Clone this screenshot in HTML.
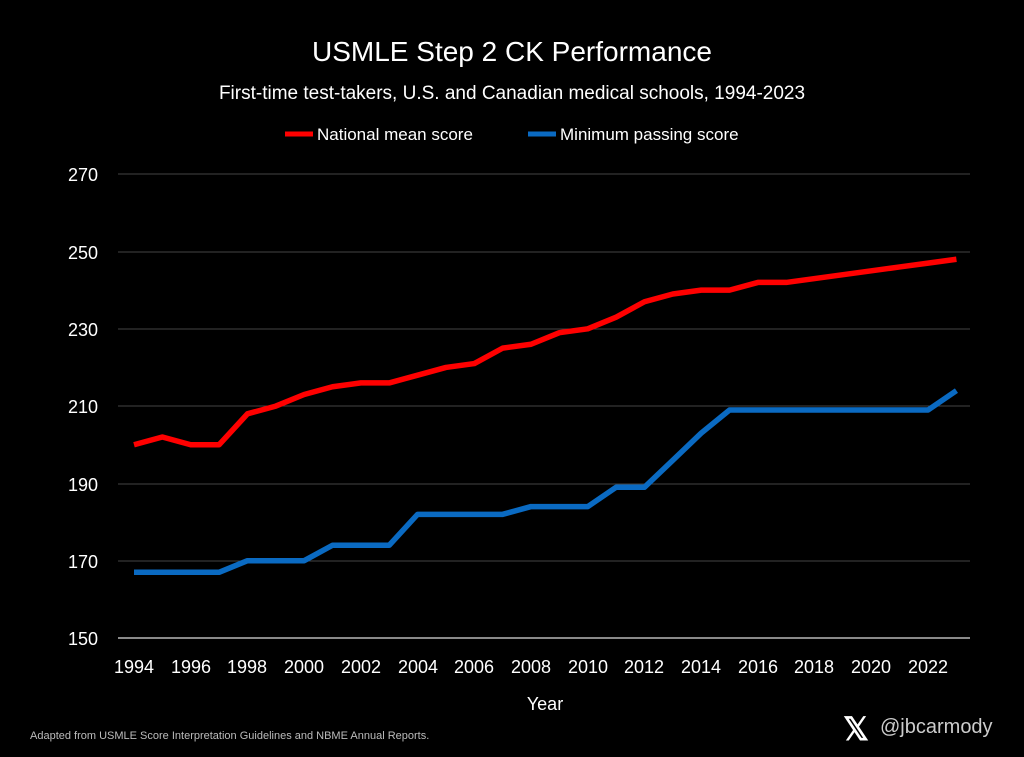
<!DOCTYPE html>
<html><head><meta charset="utf-8"><style>
html,body{margin:0;padding:0;background:#000;}
svg{display:block;font-family:"Liberation Sans",sans-serif;}
</style></head><body>
<svg width="1024" height="757" viewBox="0 0 1024 757" xmlns="http://www.w3.org/2000/svg">
<rect width="1024" height="757" fill="#000"/>
<text x="512" y="61" fill="#fff" font-size="28" text-anchor="middle">USMLE Step 2 CK Performance</text>
<text x="512" y="99" fill="#fff" font-size="19" text-anchor="middle">First-time test-takers, U.S. and Canadian medical schools, 1994-2023</text>
<line x1="285" y1="134" x2="313" y2="134" stroke="#f00" stroke-width="5"/>
<text x="317" y="140" fill="#fff" font-size="17">National mean score</text>
<line x1="528" y1="134" x2="556" y2="134" stroke="#0a6ac2" stroke-width="5"/>
<text x="560" y="140" fill="#fff" font-size="17">Minimum passing score</text>
<g stroke="#444" stroke-width="1">
<line x1="118" y1="174" x2="970" y2="174"/>
<line x1="118" y1="252" x2="970" y2="252"/>
<line x1="118" y1="329" x2="970" y2="329"/>
<line x1="118" y1="406" x2="970" y2="406"/>
<line x1="118" y1="484" x2="970" y2="484"/>
<line x1="118" y1="561" x2="970" y2="561"/>
</g>
<line x1="118" y1="638" x2="970" y2="638" stroke="#ddd" stroke-width="1.2"/>
<g fill="#fff" font-size="18" text-anchor="end">
<text x="98" y="181">270</text><text x="98" y="259">250</text><text x="98" y="336">230</text>
<text x="98" y="413">210</text><text x="98" y="491">190</text><text x="98" y="568">170</text><text x="98" y="645">150</text>
</g>
<g fill="#fff" font-size="18" text-anchor="middle">
<text x="134" y="673">1994</text><text x="191" y="673">1996</text><text x="247" y="673">1998</text>
<text x="304" y="673">2000</text><text x="361" y="673">2002</text><text x="418" y="673">2004</text>
<text x="474" y="673">2006</text><text x="531" y="673">2008</text><text x="588" y="673">2010</text>
<text x="644" y="673">2012</text><text x="701" y="673">2014</text><text x="758" y="673">2016</text>
<text x="814" y="673">2018</text><text x="871" y="673">2020</text><text x="928" y="673">2022</text>
<text x="545" y="710">Year</text>
</g>
<g transform="translate(134,638) scale(28.36,-3.865)" fill="none" stroke-linejoin="round">
<polyline vector-effect="non-scaling-stroke" stroke="#f00" stroke-width="5.5" points="0,50 1,52 2,50 3,50 4,58 5,60 6,63 7,65 8,66 9,66 10,68 11,70 12,71 13,75 14,76 15,79 16,80 17,83 18,87 19,89 20,90 21,90 22,92 23,92 24,93 25,94 26,95 27,96 28,97 29,98"/>
<polyline vector-effect="non-scaling-stroke" stroke="#0a6ac2" stroke-width="5.5" points="0,17 3,17 4,20 6,20 7,24 9,24 10,32 13,32 14,34 16,34 17,39 18,39 19,46 20,53 21,59 28,59 29,64"/>
</g>
<text x="30" y="739" fill="#bbb" font-size="11">Adapted from USMLE Score Interpretation Guidelines and NBME Annual Reports.</text>
<text x="856" y="740" fill="#fff" font-size="32" font-weight="bold" text-anchor="middle">𝕏</text>
<text x="880" y="733" fill="#ccc" font-size="20">@jbcarmody</text>
</svg>
</body></html>
